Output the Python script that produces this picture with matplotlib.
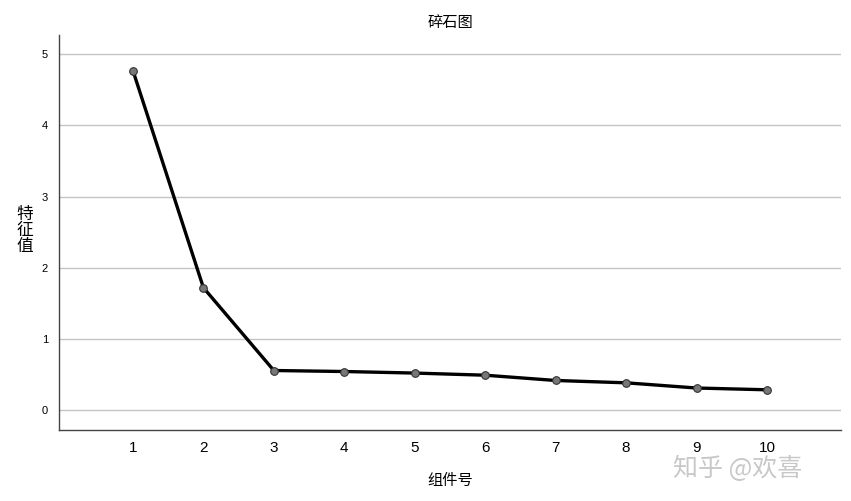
import matplotlib
matplotlib.use("Agg")
import matplotlib.pyplot as plt

plt.rcParams['font.family'] = ['Liberation Sans', 'Noto Sans CJK SC', 'DejaVu Sans']

# 碎石图数据
components = [1, 2, 3, 4, 5, 6, 7, 8, 9, 10]
eigenvalues = [4.77, 1.72, 0.556, 0.542, 0.52, 0.49, 0.416, 0.383, 0.31, 0.285]
y_ticks = [0, 1, 2, 3, 4, 5]

fig = plt.figure(figsize=(8.51, 5.01), dpi=100)
ax = fig.add_axes([0.0693, 0.1417, 0.9189, 0.7884])

ax.plot(components, eigenvalues, '-', color='black', lw=2.4, zorder=3,
        marker='o', markersize=5.5, markerfacecolor='#777777',
        markeredgecolor='#333333', markeredgewidth=0.8)

ax.set_xlim(-0.05, 11.05)
ax.set_ylim(-0.28, 5.27)
ax.set_yticks(y_ticks)
ax.set_xticks(components)
ax.set_yticklabels([str(v) for v in y_ticks], fontsize=8)
ax.set_xticklabels([str(v) for v in components], fontsize=11)
ax.tick_params(axis='both', length=0)
ax.tick_params(axis='y', pad=8)
ax.tick_params(axis='x', pad=8)

ax.grid(axis='y', color='#c4c4c4', lw=1)
ax.set_axisbelow(True)
for s in ['top', 'right']:
    ax.spines[s].set_visible(False)
for s in ['left', 'bottom']:
    ax.spines[s].set_color('#444444')
    ax.spines[s].set_linewidth(1)

cjk = ['Noto Sans CJK SC', 'DejaVu Sans']
ax.set_title('碎石图', family=cjk, fontsize=11, pad=6)
fig.text(0.029, 0.54, '特\n征\n值', family=cjk, fontsize=12,
         ha='center', va='center', linespacing=0.95)
ax.set_xlabel('组件号', family=cjk, fontsize=11, labelpad=12)

# 水印
fig.text(0.867, 0.064, '知乎 @欢喜', family=cjk, fontsize=18,
         color='#c8c8c8', ha='center', va='center')

fig.savefig('out.png', dpi=100)
